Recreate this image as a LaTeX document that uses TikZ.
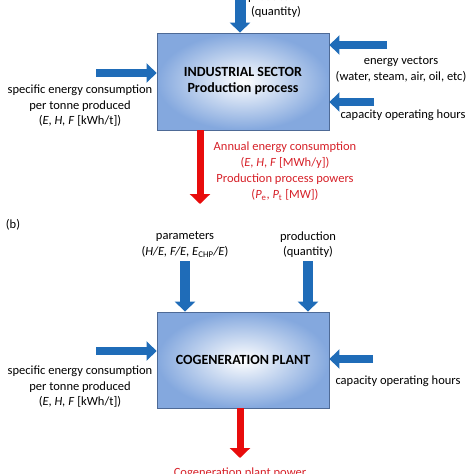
\documentclass[tikz,border=0pt]{standalone}
\usepackage{fontspec}
\setmainfont{Carlito}
\usetikzlibrary{arrows.meta}

\definecolor{arrblue}{RGB}{31,108,184}
\definecolor{arrred}{RGB}{232,12,12}
\definecolor{txtred}{RGB}{214,32,40}
\definecolor{boxblue}{RGB}{132,168,222}
\definecolor{boxedge}{RGB}{78,106,150}

\begin{document}
\begin{tikzpicture}[x=1pt,y=-1pt,
  lbl/.style={align=center,inner sep=0pt,font=\fontsize{12.5}{15.5}\selectfont},
  redlbl/.style={lbl,text=txtred,font=\fontsize{12.5}{16}\selectfont},
  sector/.style={draw=boxedge,thick,shade,inner color=white,outer color=boxblue,
    minimum width=172pt,minimum height=97pt,align=center,
    font=\fontsize{14}{16}\selectfont\bfseries},
  vblue/.style={draw=arrblue,line width=11pt,-{Triangle[length=10pt,width=20pt]}},
  hblue/.style={draw=arrblue,line width=8pt,-{Triangle[length=10pt,width=19pt]}},
  vred/.style={draw=arrred,line width=7pt,-{Triangle[length=10pt,width=20pt]}}]

\useasboundingbox (0,0) rectangle (474,474);

% (a) industrial sector
\node[sector] (ind) at (243,81.5) {INDUSTRIAL SECTOR\\Production process};

\coordinate (qa) at (240,-6);
\coordinate (sa) at (96,73);
\coordinate (va) at (387,45);
\coordinate (ha) at (374,102);
\coordinate (ra) at (200,204);

\draw[vblue] (qa) -- (ind.north -| qa);
\draw[hblue] (sa) -- (ind.west |- sa);
\draw[hblue] (va) -- (ind.east |- va);
\draw[hblue] (ha) -- (ind.east |- ha);
\draw[vred] (ind.south -| ra) -- (ra);

\node[lbl] (prodA) at (276,4.5) {production\\(quantity)};
\node[lbl] (vecA) at (401,69.5) {energy vectors\\(water, steam, air, oil, etc)};
\node[lbl] (hrsA) at (403,115) {capacity operating hours};
\node[lbl] (specA) at (80,106) {specific energy consumption\\per tonne produced\\(\textit{E, H, F} [kWh/t])};
\node[redlbl] (outA) at (285,171) {Annual energy consumption\\(\textit{E, H, F} [MWh/y])\\Production process powers\\(\textit{P}\textsubscript{e}, \textit{P}\textsubscript{t} [MW])};

% (b) cogeneration plant
\node[lbl] (b) at (13,225) {(b)};
\node[sector,minimum height=96pt] (cog) at (243,360) {COGENERATION PLANT};

\coordinate (pb) at (185,261);
\coordinate (qb) at (308,261);
\coordinate (sb) at (96,351);
\coordinate (hb) at (373,359);
\coordinate (rb) at (240,458);

\draw[vblue,line width=10pt] (pb) -- (cog.north -| pb);
\draw[vblue,line width=10pt] (qb) -- (cog.north -| qb);
\draw[hblue] (sb) -- (cog.west |- sb);
\draw[hblue] (hb) -- (cog.east |- hb);
\draw[vred] (cog.south -| rb) -- (rb);

\node[lbl] (parB) at (185,244.5) {parameters\\(\textit{H/E, F/E, E}\textsubscript{CHP}\textit{/E})};
\node[lbl] (prodB) at (308,244.5) {production\\(quantity)};
\node[lbl] (specB) at (80,387) {specific energy consumption\\per tonne produced\\(\textit{E, H, F} [kWh/t])};
\node[lbl] (hrsB) at (398,381) {capacity operating hours};
\node[redlbl] (outB) at (240,473) {Cogeneration plant power};

\end{tikzpicture}
\end{document}
